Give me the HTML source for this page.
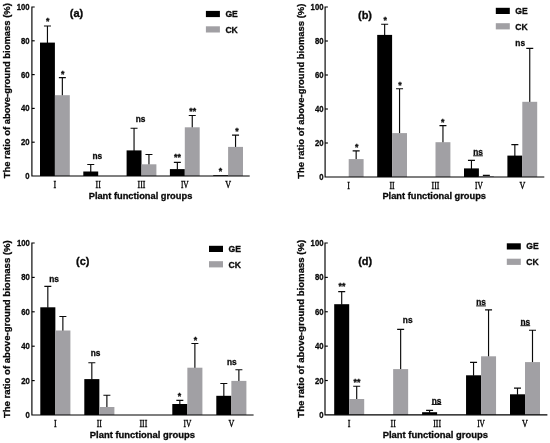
<!DOCTYPE html>
<html lang="en"><head><meta charset="utf-8"><title>Figure</title>
<style>
html,body{margin:0;padding:0;background:#fff}
svg{display:block}
text{font-family:"Liberation Sans",Arial,sans-serif;font-weight:bold;fill:#0a0a0a;stroke:#0a0a0a;stroke-width:0.3px}
.t{font-size:8.7px}
.r{font-family:"Liberation Serif","Times New Roman",serif;font-weight:normal;font-size:9px;text-anchor:middle;fill:#000;stroke:#000;stroke-width:0.3px}
.xl{font-size:9.2px}
.yl{font-size:9.3px}
.pl{font-size:11px;text-anchor:middle}
.lg{font-size:8.6px}
.ns{font-size:8.3px;text-anchor:middle}
.st{font-size:8.8px;text-anchor:middle}
.e{stroke:#0a0a0a;stroke-width:1.15;fill:none}
.ul{stroke:#000;stroke-width:0.9;fill:none}
.ax{stroke:#000;stroke-width:1.15;fill:none}
</style></head><body>
<svg width="550" height="443" viewBox="0 0 550 443">
<rect width="550" height="443" fill="#fff"/>
<g>
<path d="M47.45 43.1V26M43.95 26H50.95" class="e"/>
<rect x="40" y="42.6" width="14.9" height="133.4" fill="#000"/>
<path d="M62.35 95.7V77.6M58.85 77.6H65.85" class="e"/>
<rect x="54.9" y="95.2" width="14.9" height="80.8" fill="#a1a0a4"/>
<text class="r" transform="translate(54.9 188.3) scale(0.9 1.13)">I</text>
<path d="M90.75 172V164.5M87.25 164.5H94.25" class="e"/>
<rect x="83.3" y="171.5" width="14.9" height="4.5" fill="#000"/>
<text class="r" transform="translate(98.2 188.3) scale(0.87 1.13)">II</text>
<path d="M134.05 150.9V128.2M130.55 128.2H137.55" class="e"/>
<rect x="126.6" y="150.4" width="14.9" height="25.6" fill="#000"/>
<path d="M148.95 164.8V154.5M145.45 154.5H152.45" class="e"/>
<rect x="141.5" y="164.3" width="14.9" height="11.7" fill="#a1a0a4"/>
<text class="r" transform="translate(141.5 188.3) scale(0.87 1.13)">III</text>
<path d="M177.35 169.6V162.4M173.85 162.4H180.85" class="e"/>
<rect x="169.9" y="169.1" width="14.9" height="6.9" fill="#000"/>
<path d="M192.25 127.8V115.5M188.75 115.5H195.75" class="e"/>
<rect x="184.8" y="127.3" width="14.9" height="48.7" fill="#a1a0a4"/>
<text class="r" transform="translate(184.8 188.3) scale(0.82 1.13)">IV</text>
<rect x="213.2" y="175.2" width="14.9" height="0.8" fill="#000"/>
<path d="M235.55 147.4V135.1M232.05 135.1H239.05" class="e"/>
<rect x="228.1" y="146.9" width="14.9" height="29.1" fill="#a1a0a4"/>
<text class="r" transform="translate(228.1 188.3) scale(0.9 1.13)">V</text>
<path d="M34.7 7H31.9V176H249.7" class="ax"/>
<text class="t" x="25.3" y="179" textLength="4.3" lengthAdjust="spacingAndGlyphs">0</text>
<path d="M31.9 142.2H34.7" class="ax"/>
<text class="t" x="21" y="145.2" textLength="8.6" lengthAdjust="spacingAndGlyphs">20</text>
<path d="M31.9 108.4H34.7" class="ax"/>
<text class="t" x="21" y="111.4" textLength="8.6" lengthAdjust="spacingAndGlyphs">40</text>
<path d="M31.9 74.6H34.7" class="ax"/>
<text class="t" x="21" y="77.6" textLength="8.6" lengthAdjust="spacingAndGlyphs">60</text>
<path d="M31.9 40.8H34.7" class="ax"/>
<text class="t" x="21" y="43.8" textLength="8.6" lengthAdjust="spacingAndGlyphs">80</text>
<text class="t" x="16.7" y="10" textLength="12.9" lengthAdjust="spacingAndGlyphs">100</text>
<text class="xl" x="88.7" y="198.6" textLength="103.6" lengthAdjust="spacingAndGlyphs">Plant functional groups</text>
<text class="yl" style="font-size:9.9px" transform="translate(10.3 178.3) rotate(-90)" textLength="175.2" lengthAdjust="spacingAndGlyphs">The ratio of above-ground biomass (%)</text>
<text class="pl" x="76.5" y="17.4">(a)</text>
<rect x="205.9" y="10.9" width="14" height="6.2" fill="#000"/>
<rect x="205.9" y="26.3" width="14" height="6.2" fill="#a1a0a4"/>
<text class="lg" x="225.4" y="17">GE</text>
<text class="lg" x="225.4" y="32.7">CK</text>
<text class="st" x="47.8" y="24.45">*</text>
<text class="st" x="62.7" y="76.65">*</text>
<text class="ns" x="97.3" y="158.8">ns</text>
<text class="ns" x="140.5" y="122.2">ns</text>
<text class="st" x="177.5" y="160.45">**</text>
<text class="st" x="192.7" y="113.95">**</text>
<text class="st" x="220.5" y="173.55">*</text>
<text class="st" x="236.9" y="133.95">*</text>
</g>
<g>
<path d="M356.15 159.6V150.9M352.65 150.9H359.65" class="e"/>
<rect x="348.7" y="159.1" width="14.9" height="17.9" fill="#a1a0a4"/>
<text class="r" transform="translate(348.7 189) scale(0.9 1.13)">I</text>
<path d="M384.65 35.4V24.2M381.15 24.2H388.15" class="e"/>
<rect x="377.2" y="34.9" width="14.9" height="142.1" fill="#000"/>
<path d="M399.55 133.6V88.7M396.05 88.7H403.05" class="e"/>
<rect x="392.1" y="133.1" width="14.9" height="43.9" fill="#a1a0a4"/>
<text class="r" transform="translate(392.1 189) scale(0.87 1.13)">II</text>
<path d="M442.95 142.7V125.6M439.45 125.6H446.45" class="e"/>
<rect x="435.5" y="142.2" width="14.9" height="34.8" fill="#a1a0a4"/>
<text class="r" transform="translate(435.5 189) scale(0.87 1.13)">III</text>
<path d="M471.45 168.9V160.3M467.95 160.3H474.95" class="e"/>
<rect x="464" y="168.4" width="14.9" height="8.6" fill="#000"/>
<path d="M486.35 176.5V175.4M482.85 175.4H489.85" class="e"/>
<rect x="478.9" y="176" width="14.9" height="1" fill="#a1a0a4"/>
<text class="r" transform="translate(478.9 189) scale(0.82 1.13)">IV</text>
<path d="M514.85 156.1V144.6M511.35 144.6H518.35" class="e"/>
<rect x="507.4" y="155.6" width="14.9" height="21.4" fill="#000"/>
<path d="M529.75 102.3V48.4M526.25 48.4H533.25" class="e"/>
<rect x="522.3" y="101.8" width="14.9" height="75.2" fill="#a1a0a4"/>
<text class="r" transform="translate(522.3 189) scale(0.9 1.13)">V</text>
<path d="M327.9 7H325.1V177H544.3" class="ax"/>
<text class="t" x="319.2" y="180" textLength="4.3" lengthAdjust="spacingAndGlyphs">0</text>
<path d="M325.1 143H327.9" class="ax"/>
<text class="t" x="314.9" y="146" textLength="8.6" lengthAdjust="spacingAndGlyphs">20</text>
<path d="M325.1 109H327.9" class="ax"/>
<text class="t" x="314.9" y="112" textLength="8.6" lengthAdjust="spacingAndGlyphs">40</text>
<path d="M325.1 75H327.9" class="ax"/>
<text class="t" x="314.9" y="78" textLength="8.6" lengthAdjust="spacingAndGlyphs">60</text>
<path d="M325.1 41H327.9" class="ax"/>
<text class="t" x="314.9" y="44" textLength="8.6" lengthAdjust="spacingAndGlyphs">80</text>
<text class="t" x="310.6" y="10" textLength="12.9" lengthAdjust="spacingAndGlyphs">100</text>
<text class="xl" x="382.4" y="199.1" textLength="103.6" lengthAdjust="spacingAndGlyphs">Plant functional groups</text>
<text class="yl" style="font-size:9.9px" transform="translate(304.3 178.8) rotate(-90)" textLength="175.2" lengthAdjust="spacingAndGlyphs">The ratio of above-ground biomass (%)</text>
<text class="pl" x="365" y="19.2">(b)</text>
<rect x="495.8" y="7.8" width="14" height="6.2" fill="#000"/>
<rect x="495.8" y="23.2" width="14" height="6.2" fill="#a1a0a4"/>
<text class="lg" x="515.3" y="13.9">GE</text>
<text class="lg" x="515.3" y="29.6">CK</text>
<text class="st" x="356.7" y="150.45">*</text>
<text class="st" x="385.1" y="23.15">*</text>
<text class="st" x="400" y="88.05">*</text>
<text class="st" x="442.7" y="124.75">*</text>
<text class="ns" x="478" y="154.9">ns</text>
<path d="M473.1 155.8H482.9" class="ul"/>
<text class="ns" x="520.2" y="46.4">ns</text>
</g>
<g>
<path d="M47.82 307.8V286.4M44.32 286.4H51.32" class="e"/>
<rect x="40.3" y="307.3" width="15.05" height="107.7" fill="#000"/>
<path d="M62.87 331V316.5M59.37 316.5H66.38" class="e"/>
<rect x="55.35" y="330.5" width="15.05" height="84.5" fill="#a1a0a4"/>
<text class="r" transform="translate(55.35 427.4) scale(0.9 1.13)">I</text>
<path d="M91.83 379.6V362.7M88.33 362.7H95.33" class="e"/>
<rect x="84.3" y="379.1" width="15.05" height="35.9" fill="#000"/>
<path d="M106.88 407.5V395.2M103.38 395.2H110.38" class="e"/>
<rect x="99.35" y="407" width="15.05" height="8" fill="#a1a0a4"/>
<text class="r" transform="translate(99.35 427.4) scale(0.87 1.13)">II</text>
<text class="r" transform="translate(143.35 427.4) scale(0.87 1.13)">III</text>
<path d="M179.83 404.5V400.4M176.33 400.4H183.33" class="e"/>
<rect x="172.3" y="404" width="15.05" height="11" fill="#000"/>
<path d="M194.88 368.2V343.5M191.38 343.5H198.38" class="e"/>
<rect x="187.35" y="367.7" width="15.05" height="47.3" fill="#a1a0a4"/>
<text class="r" transform="translate(187.35 427.4) scale(0.82 1.13)">IV</text>
<path d="M223.83 396.3V383.5M220.33 383.5H227.33" class="e"/>
<rect x="216.3" y="395.8" width="15.05" height="19.2" fill="#000"/>
<path d="M238.88 381.4V369.7M235.38 369.7H242.38" class="e"/>
<rect x="231.35" y="380.9" width="15.05" height="34.1" fill="#a1a0a4"/>
<text class="r" transform="translate(231.35 427.4) scale(0.9 1.13)">V</text>
<path d="M34.7 243H31.9V415H253.6" class="ax"/>
<text class="t" x="25.5" y="418" textLength="4.3" lengthAdjust="spacingAndGlyphs">0</text>
<path d="M31.9 380.6H34.7" class="ax"/>
<text class="t" x="21.2" y="383.6" textLength="8.6" lengthAdjust="spacingAndGlyphs">20</text>
<path d="M31.9 346.2H34.7" class="ax"/>
<text class="t" x="21.2" y="349.2" textLength="8.6" lengthAdjust="spacingAndGlyphs">40</text>
<path d="M31.9 311.8H34.7" class="ax"/>
<text class="t" x="21.2" y="314.8" textLength="8.6" lengthAdjust="spacingAndGlyphs">60</text>
<path d="M31.9 277.4H34.7" class="ax"/>
<text class="t" x="21.2" y="280.4" textLength="8.6" lengthAdjust="spacingAndGlyphs">80</text>
<text class="t" x="16.9" y="246" textLength="12.9" lengthAdjust="spacingAndGlyphs">100</text>
<text class="xl" x="89.8" y="437.6" textLength="105.2" lengthAdjust="spacingAndGlyphs">Plant functional groups</text>
<text class="yl" style="font-size:9.9px" transform="translate(10.3 418.1) rotate(-90)" textLength="177.9" lengthAdjust="spacingAndGlyphs">The ratio of above-ground biomass (%)</text>
<text class="pl" x="82.7" y="264.8">(c)</text>
<rect x="209" y="245.8" width="14" height="6.2" fill="#000"/>
<rect x="209" y="261.2" width="14" height="6.2" fill="#a1a0a4"/>
<text class="lg" x="228.5" y="251.9">GE</text>
<text class="lg" x="228.5" y="267.6">CK</text>
<text class="ns" x="54.1" y="282.1">ns</text>
<text class="ns" x="95.5" y="355.8">ns</text>
<text class="st" x="179.5" y="399.35">*</text>
<text class="st" x="195.5" y="342.65">*</text>
<text class="ns" x="231.8" y="364.9">ns</text>
</g>
<g>
<path d="M341.7 304.7V291.6M338.2 291.6H345.2" class="e"/>
<rect x="334.2" y="304.2" width="15" height="110.7" fill="#000"/>
<path d="M356.7 399.5V386.2M353.2 386.2H360.2" class="e"/>
<rect x="349.2" y="399" width="15" height="15.9" fill="#a1a0a4"/>
<text class="r" transform="translate(349.2 427.4) scale(0.9 1.13)">I</text>
<path d="M400.65 369.6V329.3M397.15 329.3H404.15" class="e"/>
<rect x="393.15" y="369.1" width="15" height="45.8" fill="#a1a0a4"/>
<text class="r" transform="translate(393.15 427.4) scale(0.87 1.13)">II</text>
<path d="M429.6 412.7V410.3M426.1 410.3H433.1" class="e"/>
<rect x="422.1" y="412.2" width="15" height="2.7" fill="#000"/>
<text class="r" transform="translate(437.1 427.4) scale(0.87 1.13)">III</text>
<path d="M473.55 375.8V362.4M470.05 362.4H477.05" class="e"/>
<rect x="466.05" y="375.3" width="15" height="39.6" fill="#000"/>
<path d="M488.55 356.8V309.9M485.05 309.9H492.05" class="e"/>
<rect x="481.05" y="356.3" width="15" height="58.6" fill="#a1a0a4"/>
<text class="r" transform="translate(481.05 427.4) scale(0.82 1.13)">IV</text>
<path d="M517.5 394.8V388.1M514 388.1H521" class="e"/>
<rect x="510" y="394.3" width="15" height="20.6" fill="#000"/>
<path d="M532.5 362.6V330.2M529 330.2H536" class="e"/>
<rect x="525" y="362.1" width="15" height="52.8" fill="#a1a0a4"/>
<text class="r" transform="translate(525 427.4) scale(0.9 1.13)">V</text>
<path d="M327.8 243H325V414.9H547.4" class="ax"/>
<text class="t" x="319.2" y="417.9" textLength="4.3" lengthAdjust="spacingAndGlyphs">0</text>
<path d="M325 380.52H327.8" class="ax"/>
<text class="t" x="314.9" y="383.52" textLength="8.6" lengthAdjust="spacingAndGlyphs">20</text>
<path d="M325 346.14H327.8" class="ax"/>
<text class="t" x="314.9" y="349.14" textLength="8.6" lengthAdjust="spacingAndGlyphs">40</text>
<path d="M325 311.76H327.8" class="ax"/>
<text class="t" x="314.9" y="314.76" textLength="8.6" lengthAdjust="spacingAndGlyphs">60</text>
<path d="M325 277.38H327.8" class="ax"/>
<text class="t" x="314.9" y="280.38" textLength="8.6" lengthAdjust="spacingAndGlyphs">80</text>
<text class="t" x="310.6" y="246" textLength="12.9" lengthAdjust="spacingAndGlyphs">100</text>
<text class="xl" x="382.7" y="437.8" textLength="105.2" lengthAdjust="spacingAndGlyphs">Plant functional groups</text>
<text class="yl" style="font-size:9.9px" transform="translate(304.3 417.7) rotate(-90)" textLength="177.9" lengthAdjust="spacingAndGlyphs">The ratio of above-ground biomass (%)</text>
<text class="pl" x="365.2" y="264.8">(d)</text>
<rect x="506.8" y="243.3" width="14" height="6.2" fill="#000"/>
<rect x="506.8" y="258.7" width="14" height="6.2" fill="#a1a0a4"/>
<text class="lg" x="526.3" y="249.4">GE</text>
<text class="lg" x="526.3" y="265.1">CK</text>
<text class="st" x="342" y="289.45">**</text>
<text class="st" x="357" y="385.35">**</text>
<text class="ns" x="407.7" y="322.7">ns</text>
<text class="ns" x="436.5" y="403.6">ns</text>
<path d="M431.6 404.5H441.4" class="ul"/>
<text class="ns" x="481" y="305">ns</text>
<path d="M476.1 305.9H485.9" class="ul"/>
<text class="ns" x="525.3" y="324.8">ns</text>
<path d="M520.4 325.7H530.2" class="ul"/>
</g>
</svg>
</body></html>
